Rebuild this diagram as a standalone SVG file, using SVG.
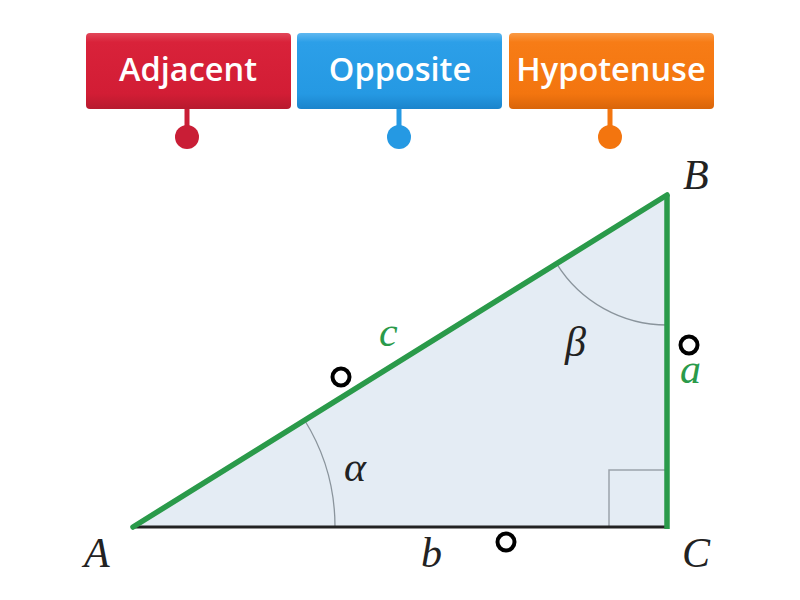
<svg xmlns="http://www.w3.org/2000/svg" width="800" height="600" viewBox="0 0 800 600">
<style>
.lbl{font-family:"Open Sans","Noto Sans",sans-serif;font-size:32.5px;font-weight:600;fill:#fff;text-anchor:middle}
.it{font-family:"Liberation Serif","Times New Roman",serif;font-style:italic;font-size:42px;fill:#222}
.gi{font-family:"Liberation Serif","Times New Roman",serif;font-style:italic;font-size:42px;fill:#2a9a4a}
.dot{fill:#fff;stroke:#000;stroke-width:4}
.arc{fill:none;stroke:#8a949c;stroke-width:1.3}
</style>
<defs>
<linearGradient id="gr" x1="0" y1="0" x2="0" y2="1"><stop offset="0" stop-color="#e2475a"/><stop offset="0.12" stop-color="#d9223a"/><stop offset="0.8" stop-color="#d21d35"/><stop offset="1" stop-color="#b71a2e"/></linearGradient>
<linearGradient id="gb" x1="0" y1="0" x2="0" y2="1"><stop offset="0" stop-color="#5fb8f0"/><stop offset="0.12" stop-color="#2c9fe8"/><stop offset="0.8" stop-color="#2599e3"/><stop offset="1" stop-color="#1b84cc"/></linearGradient>
<linearGradient id="go" x1="0" y1="0" x2="0" y2="1"><stop offset="0" stop-color="#fa9a45"/><stop offset="0.12" stop-color="#f77c16"/><stop offset="0.8" stop-color="#f3750f"/><stop offset="1" stop-color="#d9650a"/></linearGradient>
</defs>
<rect width="800" height="600" fill="#fff"/>
<g id="triangle">
<polygon points="133,527 667,195 667,527" fill="#e4ecf4"/>
<path class="arc" d="M335,527 A202,202 0 0 0 304.5,420"/>
<path class="arc" d="M556.6,263.6 A130,130 0 0 0 667,325"/>
<polyline points="609,527 609,470 667,470" fill="none" stroke="#9aa2aa" stroke-width="1.5"/>
<line x1="133" y1="527" x2="667" y2="527" stroke="#222" stroke-width="3"/>
<line x1="133" y1="527" x2="667" y2="195" stroke="#2a9a4a" stroke-width="5.5" stroke-linecap="round"/>
<line x1="667" y1="195" x2="667" y2="529" stroke="#2a9a4a" stroke-width="5.5"/>
<text class="it" x="84" y="567">A</text>
<text class="it" x="683" y="189">B</text>
<text class="it" x="682" y="567">C</text>
<text class="it" x="421" y="567">b</text>
<text class="gi" x="379" y="346">c</text>
<text class="gi" x="680" y="383">a</text>
<text class="it" x="344" y="481">α</text>
<text class="it" x="565" y="356">β</text>
</g>
<g id="dots">
<circle class="dot" cx="341" cy="377" r="8.5"/>
<circle class="dot" cx="689" cy="345" r="8.5"/>
<circle class="dot" cx="506" cy="542" r="8.5"/>
</g>
<g id="connectors">
<line x1="187" y1="108" x2="187" y2="132" stroke="#c91e36" stroke-width="5"/>
<line x1="399" y1="108" x2="399" y2="132" stroke="#2599e3" stroke-width="5"/>
<line x1="610" y1="108" x2="610" y2="132" stroke="#f3750f" stroke-width="5"/>
</g>
<g id="adjacent">
<rect x="86" y="33" width="205" height="76" rx="4" fill="url(#gr)"/>
<circle cx="187" cy="137" r="12" fill="#c91e36"/>
<text class="lbl" x="188" y="81">Adjacent</text>
</g>
<g id="opposite">
<rect x="297" y="33" width="205" height="76" rx="4" fill="url(#gb)"/>
<circle cx="399" cy="137" r="12" fill="#2599e3"/>
<text class="lbl" x="400" y="81">Opposite</text>
</g>
<g id="hypotenuse">
<rect x="509" y="33" width="205" height="76" rx="4" fill="url(#go)"/>
<circle cx="610" cy="137" r="12" fill="#f3750f"/>
<text class="lbl" x="611" y="81">Hypotenuse</text>
</g>
</svg>
